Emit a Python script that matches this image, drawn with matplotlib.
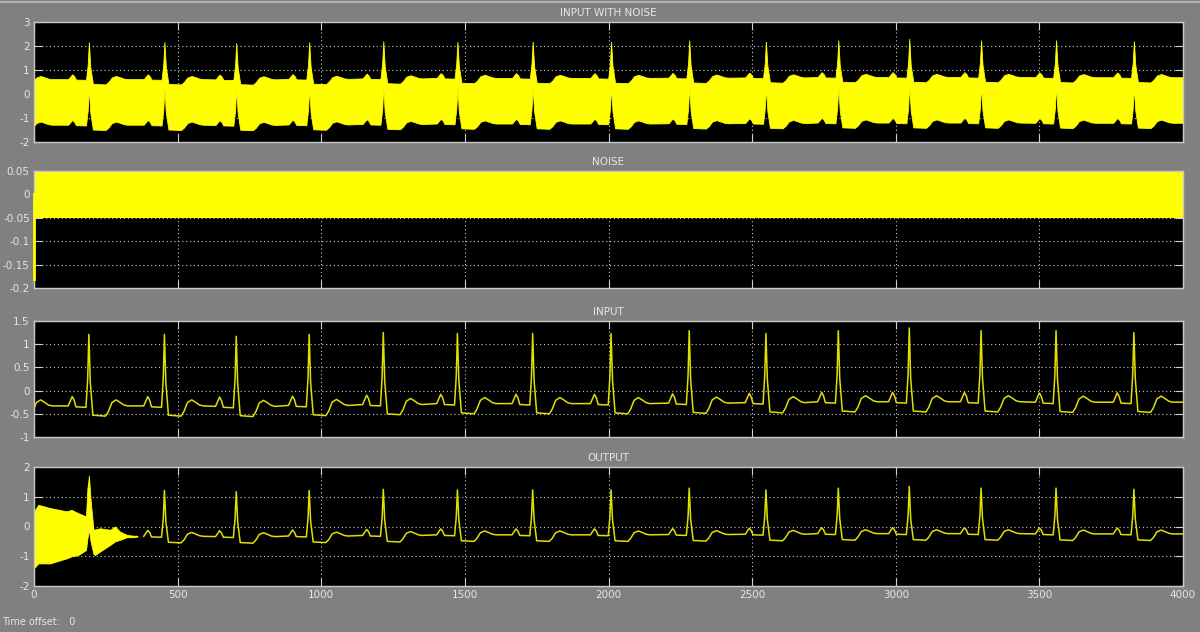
#!/usr/bin/env python3
"""
Scope-style view of an ECG adaptive noise cancelling run:
input with noise, noise, clean input and filter output.
"""

import numpy as np
import matplotlib
matplotlib.use("Agg")
import matplotlib.pyplot as plt

# === DATA ===
T_END = 4000

# R-peak times, baseline level and R amplitude per beat (first beat is off-screen)
beat_t = [-72, 191, 454, 704, 958, 1216, 1474, 1736, 2009, 2281, 2548, 2800, 3047, 3297, 3558, 3829]
beat_base = [-0.33, -0.33, -0.33, -0.34, -0.32, -0.30, -0.28, -0.28, -0.28, -0.27, -0.26,
             -0.24, -0.24, -0.24, -0.25, -0.25]
beat_r = [1.2, 1.21, 1.21, 1.17, 1.21, 1.25, 1.23, 1.23, 1.23, 1.29, 1.23, 1.29, 1.35, 1.29, 1.29, 1.25]

# one heartbeat shape: time offset from R, level relative to baseline (R entry replaced)
tmpl_dt = [-72, -65, -58, -51, -45, -10, -4, 0, 5, 14, 58, 68, 80, 95, 108, 122, 135]
tmpl_dv = [0.0, 0.1, 0.2, 0.12, -0.02, -0.03, 0.6, None, 0.5, -0.2, -0.22, -0.12, 0.07, 0.13, 0.08,
           0.02, 0.0]

# noise added to the input (half width of the yellow band)
noise_gain = 0.95
noise_hi, noise_lo = 0.05, -0.05
noise_start = -0.18

# output band while the filter converges
out_band_t = [0, 15, 56, 114, 131, 143, 154, 181, 186, 189, 191, 197, 207, 212, 230, 265, 282, 299, 323, 346, 360]
out_band_hi = [0.51, 0.73, 0.62, 0.51, 0.56, 0.5, 0.45, 0.34, 1.29, 1.5, 1.71, 0.9, -0.11, -0.1, -0.06,
               -0.11, 0.0, -0.17, -0.28, -0.31, -0.31]
out_band_lo = [-1.4, -1.24, -1.24, -1.07, -1.0, -0.98, -0.96, -0.79, -0.4, -0.22, -0.1, -0.5, -0.92, -0.96,
               -0.84, -0.62, -0.5, -0.45, -0.36, -0.36, -0.34]

titles = ["INPUT WITH NOISE", "NOISE", "INPUT", "OUTPUT"]
ylims = [(-2, 3), (-0.2, 0.05), (-1, 1.5), (-2, 2)]
yticks = [[-2, -1, 0, 1, 2, 3],
          [-0.2, -0.15, -0.1, -0.05, 0, 0.05],
          [-1, -0.5, 0, 0.5, 1, 1.5],
          [-2, -1, 0, 1, 2]]
ytick_labels = [["-2", "-1", "0", "1", "2", "3"],
                ["-0.2", "-0.15", "-0.1", "-0.05", "0", "0.05"],
                ["-1", "-0.5", "0", "0.5", "1", "1.5"],
                ["-2", "-1", "0", "1", "2"]]
xticks = [0, 500, 1000, 1500, 2000, 2500, 3000, 3500, 4000]
# ==============

# build the clean ECG polyline from the beat list
ecg_t, ecg_v = [], []
for tb, base, ramp in zip(beat_t, beat_base, beat_r):
    for dt, dv in zip(tmpl_dt, tmpl_dv):
        ecg_t.append(tb + dt)
        ecg_v.append(ramp if dv is None else base + dv)
ecg_t.append(T_END)
ecg_v.append(beat_base[-1])
ecg_t = np.array(ecg_t)
ecg_v = np.array(ecg_v)

BG = "#808080"
FG = "#e6e6e6"
YEL = "#ffff00"
plt.rcParams["font.family"] = ["Liberation Sans Narrow", "DejaVu Sans"]

fig = plt.figure(figsize=(12, 6.32), dpi=100, facecolor=BG)

# axes boxes in pixels: top, bottom (left/right shared)
boxes = [(22, 142), (171, 288), (321, 437), (467, 586)]
left, right = 34, 1183
axes = []
for (top, bot) in boxes:
    ax = fig.add_axes([left / 1200, 1 - bot / 632, (right - left) / 1200, (bot - top) / 632])
    axes.append(ax)

for i, ax in enumerate(axes):
    ax.set_facecolor("black")
    ax.set_xlim(0, T_END)
    ax.set_ylim(*ylims[i])
    ax.set_yticks(yticks[i])
    ax.set_yticklabels(ytick_labels[i])
    ax.set_xticks(xticks)
    if i < 3:
        ax.set_xticklabels([])
    ax.set_axisbelow(True)
    ax.grid(True, color="#c8c8c8", linestyle=(0, (1, 2.5)), linewidth=0.8)
    ax.tick_params(direction="in", length=6, color="#d0d0d0", labelcolor=FG,
                   labelsize=7.5, top=True, right=True, pad=3)
    for sp in ax.spines.values():
        sp.set_color("#c8c8c8")
        sp.set_linewidth(1.0)
    ax.set_title(titles[i], color=FG, fontsize=7.5, pad=4)

# 1) input with noise
axes[0].fill_between(ecg_t, ecg_v - noise_gain, ecg_v + noise_gain, color=YEL, linewidth=0.6,
                     edgecolor=YEL)

# 2) noise
axes[1].fill_between([0, T_END], [noise_lo, noise_lo], [noise_hi, noise_hi], color=YEL, linewidth=0)
axes[1].plot([0, 0], [noise_start, 0], color=YEL, linewidth=2, clip_on=False, zorder=5)

# 3) clean input
axes[2].plot(ecg_t, ecg_v, color="#e0e000", linewidth=1.1)

# 4) output: converging band then clean signal
axes[3].fill_between(out_band_t, out_band_lo, out_band_hi, color=YEL, linewidth=0.6, edgecolor=YEL)
keep = ecg_t >= out_band_t[-1] - 20
axes[3].plot(ecg_t[keep], ecg_v[keep], color="#e0e000", linewidth=1.1)

# light frame edge along the top of the window
fig.add_artist(plt.Line2D([0, 1], [0.997, 0.997], color="#b0b0b0", linewidth=1.5))

fig.text(2 / 1200, 1 - 622 / 632, "Time offset:   0", color=FG, fontsize=7, va="center")

fig.savefig("out.png", dpi=100, facecolor=BG)
